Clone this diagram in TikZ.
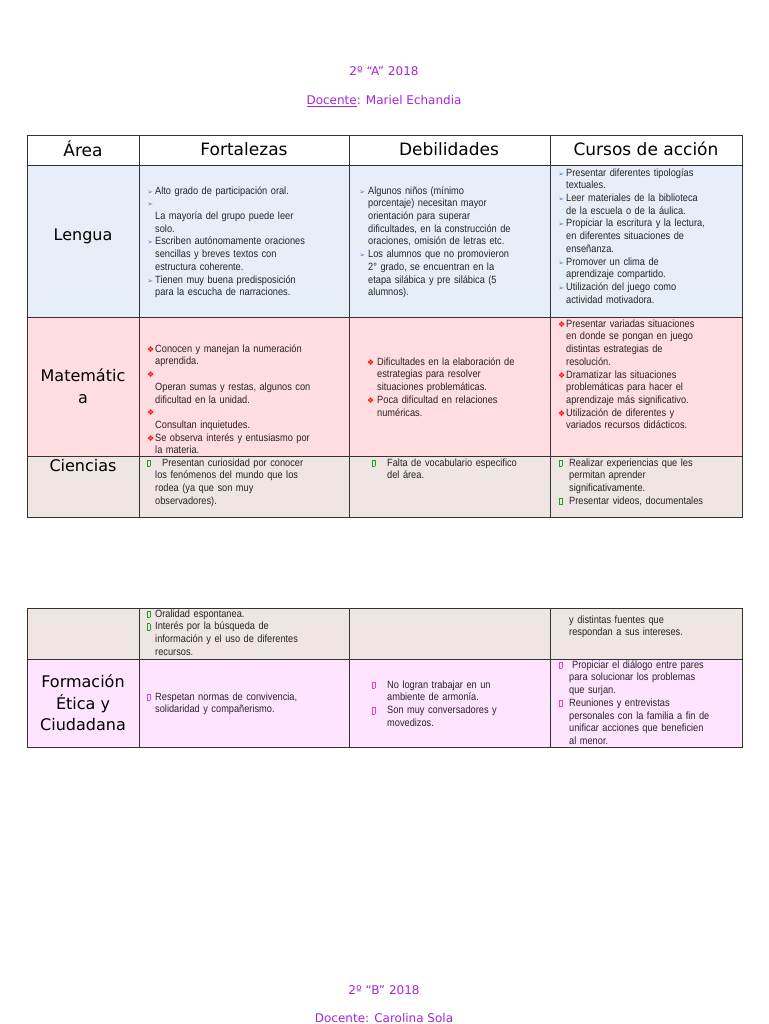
\documentclass[tikz,border=0pt]{standalone}
\usepackage{fontspec}
\setmainfont{Liberation Sans}
\newfontfamily\bodyf{Liberation Sans}[FakeStretch=0.88]
\newfontfamily\djf{DejaVu Sans}
\definecolor{purp}{HTML}{A526D9}
\definecolor{lblue}{HTML}{E8EEF8}
\definecolor{lpink}{HTML}{FFDDE0}
\definecolor{lbeige}{HTML}{EFE5E3}
\definecolor{lmag}{HTML}{FFE4FF}
\definecolor{arrb}{HTML}{3A7FC8}
\definecolor{grb}{HTML}{1FA01F}
\definecolor{mgb}{HTML}{E040E0}
\newcommand\Jl[1]{\makebox[\hsize][s]{#1}\\}
\newcommand\fs{\rule{0pt}{9.5pt}}
\newcommand\bu[2]{\llap{#1\hspace{#2}}}
\newcommand\arb{{\djf\color{arrb}\fontsize{7}{7}\selectfont ➢}}
\newcommand\dmb{{\djf\color{red}\fontsize{8}{8}\selectfont ❖}}
\newcommand\gbx{{\color{grb}\fboxsep0pt\fboxrule.5pt\fbox{\rule{0pt}{6pt}\hspace{2pt}}}}
\newcommand\mbx{{\color{mgb}\fboxsep0pt\fboxrule.5pt\fbox{\rule{0pt}{6pt}\hspace{2pt}}}}
\tikzset{
 cell/.style={anchor=north west, inner sep=0pt, text width=#1, align=left,
   font=\bodyf\fontsize{10.5}{12.7}\selectfont, text=black!85},
 head/.style={font=\djf\fontsize{17}{20}\selectfont, inner sep=0pt},
 area/.style={font=\djf\fontsize{16}{21.5}\selectfont, align=center, inner sep=0pt},
 ttl/.style={font=\djf\fontsize{12}{14}\selectfont, text=purp, inner sep=0pt},
 grid/.style={draw=black!80, line width=0.8pt}
}
\begin{document}
\begin{tikzpicture}[x=1pt,y=-1pt]
\useasboundingbox (0,0) rectangle (768,1024);
% titles
\node[ttl] (t1) at (384,71) {2º “A”  2018};
\node[ttl] (t2) at (384,101) {\underline{Docente}: Mariel  Echandia};
\node[ttl] (t3) at (384,990) {2º “B”  2018};
\node[ttl] (t4) at (384,1018) {Docente: Carolina  Sola};
% fills table 1
\fill[lblue] (27,165) rectangle (742,317);
\fill[lpink] (27,317) rectangle (742,456);
\fill[lbeige] (27,456) rectangle (742,517);
\draw[grid] (27,135) rectangle (742,517);
\foreach \y in {165,317,456} \draw[grid] (27,\y) -- (742,\y);
\foreach \x in {139,349,550} \draw[grid] (\x,135) -- (\x,517);
% table 2
\fill[lbeige] (27,608) rectangle (742,659);
\fill[lmag] (27,659) rectangle (742,747);
\draw[grid] (27,608) rectangle (742,747);
\draw[grid] (27,659) -- (742,659);
\foreach \x in {139,349,550} \draw[grid] (\x,608) -- (\x,747);
% headers
\node[head] (h1) at (83,149) {Área};
\node[head] (h2) at (244,149) {Fortalezas};
\node[head] (h3) at (449,149) {Debilidades};
\node[head] (h4) at (646,149) {Cursos  de  acción};
\node[area] (a1) at (83,236) {Lengua};
\node[area] (a2) at (83,386) {Matemátic\\a};
\node[area] (a3) at (83,466) {Ciencias};
\node[area] (a4) at (83,703) {Formación\\Ética  y\\Ciudadana};
% Lengua
\node[cell=181pt] (lf) at (155,184.5) {\fs\bu{\arb}{2pt}Alto grado de participación oral.\\
\bu{\arb}{2pt}La mayoría del grupo puede leer\\
solo.\\
\Jl{\bu{\arb}{2pt}Escriben autónomamente oraciones}
\Jl{sencillas y breves textos con}
estructura coherente.\\
\Jl{\bu{\arb}{2pt}Tienen muy buena predisposición}
para la escucha de narraciones.};
\node[cell=169pt] (ld) at (368,184.5) {\fs\Jl{\bu{\arb}{3pt}Algunos niños (mínimo}
\Jl{porcentaje) necesitan mayor}
\Jl{orientación para superar}
\Jl{dificultades, en la construcción de}
oraciones, omisión de letras etc.\\
\Jl{\bu{\arb}{3pt}Los alumnos que no promovieron}
\Jl{2° grado, se encuentran en la}
\Jl{etapa silábica y pre silábica (5}
alumnos).};
\node[cell=164pt] (lc) at (566,166.5) {\fs\Jl{\bu{\arb}{2pt}Presentar diferentes tipologías}
textuales.\\
\Jl{\bu{\arb}{2pt}Leer materiales de la biblioteca}
de la escuela o de la áulica.\\
\Jl{\bu{\arb}{2pt}Propiciar la escritura y la lectura,}
\Jl{en diferentes situaciones de}
enseñanza.\\
\Jl{\bu{\arb}{2pt}Promover un clima de}
aprendizaje compartido.\\
\Jl{\bu{\arb}{2pt}Utilización del juego como}
actividad motivadora.};
% Matematica
\node[cell=181pt] (mf) at (155,342.5) {\fs\bu{\dmb}{1pt}Conocen y manejan la numeración\\
aprendida.\\
\bu{\dmb}{1pt}Operan sumas y restas, algunos con\\
dificultad en la unidad.\\
\bu{\dmb}{1pt}Consultan inquietudes.\\
\Jl{\bu{\dmb}{1pt}Se observa interés y entusiasmo por}
la materia.};
\node[cell=168pt] (md) at (377,355.5) {\fs\Jl{\bu{\dmb}{3pt}Dificultades en la elaboración de}
\Jl{estrategias para resolver}
situaciones problemáticas.\\
\Jl{\bu{\dmb}{3pt}Poca dificultad en relaciones}
numéricas.};
\node[cell=164pt] (mc) at (566,317.5) {\fs\Jl{\bu{\dmb}{1pt}Presentar variadas situaciones}
\Jl{en donde se pongan en juego}
\Jl{distintas estrategias de}
resolución.\\
\Jl{\bu{\dmb}{1pt}Dramatizar las situaciones}
\Jl{problemáticas para hacer el}
aprendizaje más  significativo.\\
\Jl{\bu{\dmb}{1pt}Utilización de diferentes y}
variados recursos didácticos.};
% Ciencias
\node[cell=181pt] (cf) at (155,456.5) {\fs\Jl{\bu{\gbx}{5pt}\hspace{7pt}Presentan curiosidad por conocer}
\Jl{los fenómenos del mundo que los}
\Jl{rodea (ya que son muy}
observadores).};
\node[cell=158pt] (cd) at (387,456.5) {\fs\bu{\gbx}{12pt}Falta de vocabulario especifico\\
del área.};
\node[cell=161pt] (cc) at (569,456.5) {\fs\Jl{\bu{\gbx}{7pt}Realizar experiencias que les}
\Jl{permitan aprender}
significativamente.\\
\Jl{\bu{\gbx}{7pt}Presentar videos, documentales}};
% table 2 row 1
\node[cell=181pt] (cf2) at (155,607.5) {\fs\bu{\gbx}{5pt}Oralidad espontanea.\\
\Jl{\bu{\gbx}{5pt}Interés por la búsqueda de}
\Jl{información y el uso de diferentes}
recursos.};
\node[cell=161pt] (cc2) at (569,613.5) {\fs\Jl{y distintas fuentes que}
respondan a sus intereses.};
% FEyC
\node[cell=181pt] (ff) at (155,690.5) {\fs\Jl{\bu{\mbx}{5pt}Respetan normas de convivencia,}
solidaridad y compañerismo.};
\node[cell=158pt] (fd) at (387,678.5) {\fs\Jl{\bu{\mbx}{12pt}No logran trabajar en un}
ambiente de armonía.\\
\Jl{\bu{\mbx}{12pt}Son muy conversadores y}
movedizos.};
\node[cell=161pt] (fc) at (569,658.5) {\fs\bu{\mbx}{7pt}\hspace{3pt}Propiciar el diálogo entre pares\\
\Jl{para solucionar los problemas}
que surjan.\\
\Jl{\bu{\mbx}{7pt}Reuniones y entrevistas}
\Jl{personales con la familia a fin de}
\Jl{unificar acciones que beneficien}
al menor.};
\end{tikzpicture}
\end{document}
